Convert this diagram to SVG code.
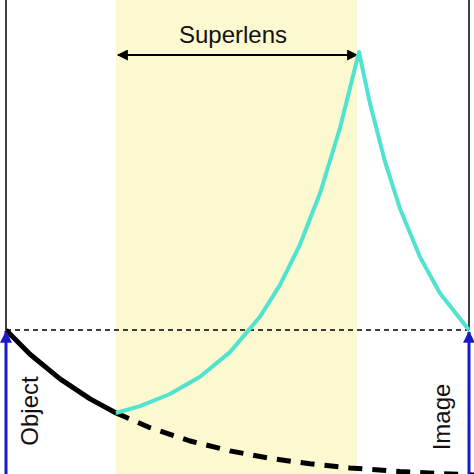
<svg xmlns="http://www.w3.org/2000/svg" width="474" height="474" viewBox="0 0 474 474">
<defs>
<style>
.lbl{font-family:"Liberation Sans",Arial,sans-serif;font-size:24px;fill:#111}
.thin{stroke:#000;stroke-width:1.5;fill:none}
.blk{stroke:#000;stroke-width:5;fill:none;stroke-linejoin:round}
.cy{stroke:#4fe3d0;stroke-width:4;fill:none;stroke-linejoin:round}
.blue{stroke:#1a1ac8;stroke-width:3;fill:none}
</style>
<marker id="ah" viewBox="0 0 10 10" refX="9" refY="5" markerWidth="12" markerHeight="11" orient="auto-start-reverse" markerUnits="userSpaceOnUse">
<path d="M0,0 L10,5 L0,10 z" fill="#000"/>
</marker>
<marker id="bh" viewBox="0 0 10 10" refX="9" refY="5" markerWidth="12" markerHeight="12" orient="auto" markerUnits="userSpaceOnUse">
<path d="M0,0 L10,5 L0,10 z" fill="#1a1ac8"/>
</marker>
</defs>
<rect width="474" height="474" fill="#fff"/>
<rect id="lens" x="116" y="0" width="241" height="474" fill="#fcf8d0"/>
<g id="frame">
<line class="thin" x1="6" y1="0" x2="6" y2="330"/>
<line class="thin" x1="469" y1="0" x2="469" y2="330"/>
<line class="thin" x1="6" y1="330" x2="469" y2="330" stroke-dasharray="5,4"/>
</g>
<g id="connectors">
<line x1="118" y1="55" x2="357" y2="55" stroke="#000" stroke-width="2" marker-start="url(#ah)" marker-end="url(#ah)"/>
<polyline class="blk" points="6,330 30,354.2 60,378.9 90,398.9 116,413"/>
<polyline class="blk" stroke-dasharray="14,10" points="116,413 150,427.7 190,441 230,450.9 270,458.3 310,463.8 350,467.9 400,471.6 474,475"/>
<polyline class="cy" points="116,413 140,406.1 170,394 200,376.8 230,352.1 260,316.7 280,284.9 300,244.6 320,193.3 340,128 359,52 370,103.6 385,161.7 400,208.6 420,257 440,293.2 469,330"/>
<line class="blue" x1="6" y1="474" x2="6" y2="332" marker-end="url(#bh)"/>
<line class="blue" x1="469" y1="474" x2="469" y2="332" marker-end="url(#bh)"/>
</g>
<text class="lbl" x="233" y="43" text-anchor="middle">Superlens</text>
<text class="lbl" transform="translate(38,411) rotate(-90)" text-anchor="middle">Object</text>
<text class="lbl" transform="translate(450,417) rotate(-90)" text-anchor="middle">Image</text>
</svg>
